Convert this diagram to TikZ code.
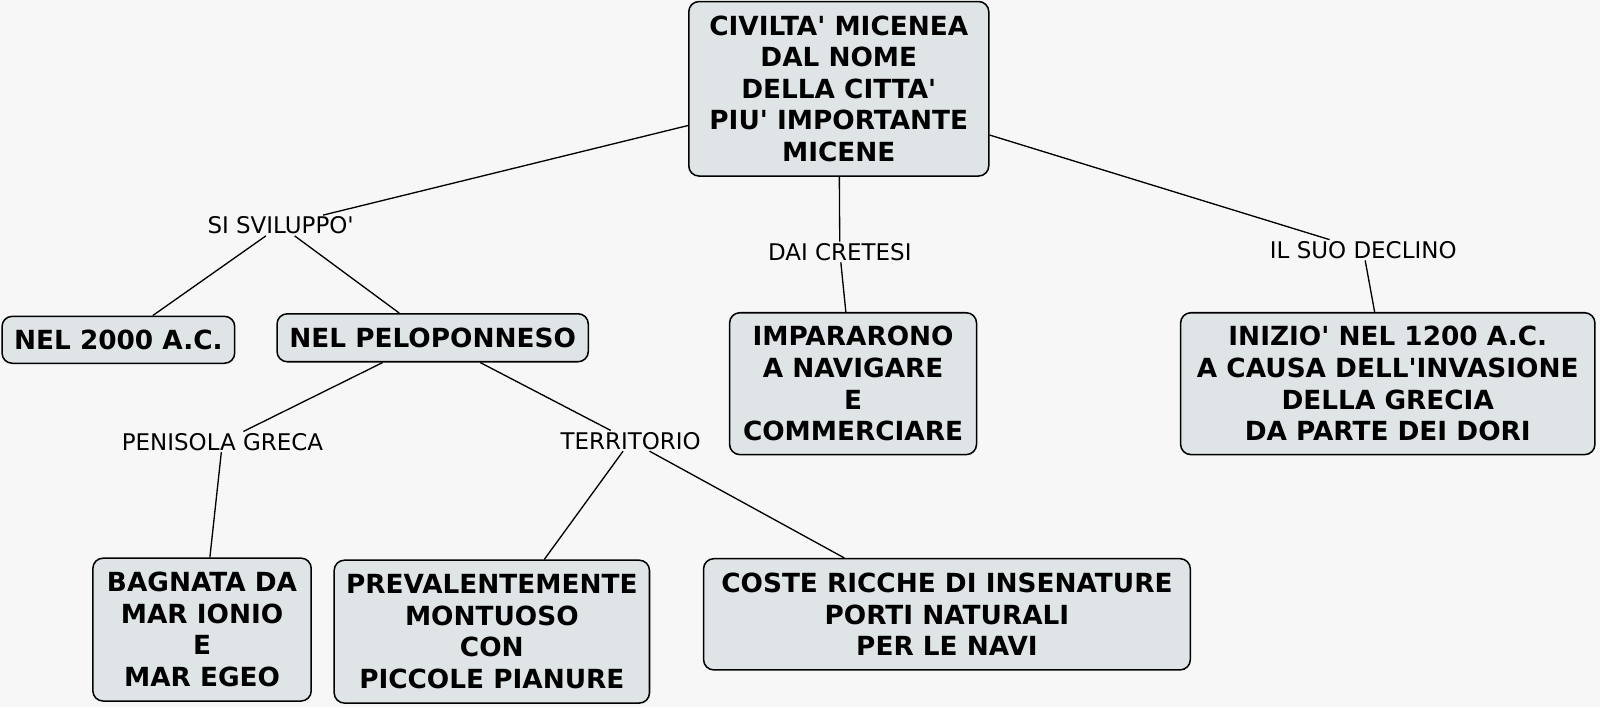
\documentclass[tikz,border=0pt]{standalone}
\usepackage{fontspec}
\setmainfont{DejaVu Sans}
\definecolor{sfondo}{RGB}{247,247,247}
\definecolor{riempi}{RGB}{223,229,231}
\newcommand{\apice}{\textquotesingle}

\tikzset{
  concept/.style={draw, line width=1.5pt, rounded corners=10pt, fill=riempi, align=center,
    inner sep=0pt, font=\fontsize{25.8}{31}\selectfont\bfseries},
  link/.style={align=center, inner sep=1pt, font=\fontsize{22.5}{26}\selectfont},
}

\begin{document}
\begin{tikzpicture}[x=1pt, y=-1pt, line width=1.3pt]
    \path[use as bounding box, fill=sfondo] (0,0) rectangle (1568,693);
    \node[concept, minimum width=294pt, minimum height=171pt] (1) at (822,87) {CIVILTA\apice{} MICENEA\\DAL NOME\\DELLA CITTA\apice\\PIU\apice{} IMPORTANTE\\MICENE};
    \node[link] (2) at (275,221) {SI SVILUPPO\apice};
    \node[concept, minimum width=228pt, minimum height=46pt] (3) at (116,333) {NEL 2000 A.C.};
    \node[concept, minimum width=305pt, minimum height=47pt] (4) at (424,331) {NEL PELOPONNESO};
    \node[link] (5) at (823,247) {DAI CRETESI};
    \node[concept, minimum width=242pt, minimum height=139pt] (6) at (836,376) {IMPARARONO\\A NAVIGARE\\E\\COMMERCIARE};
    \node[link] (7) at (1336,245) {IL SUO DECLINO};
    \node[concept, minimum width=406pt, minimum height=139pt] (8) at (1360,376) {INIZIO\apice{} NEL 1200 A.C.\\A CAUSA DELL\apice INVASIONE\\DELLA GRECIA\\DA PARTE DEI DORI};
    \node[link] (9) at (218,433) {PENISOLA GRECA};
    \node[link] (10) at (618,432) {TERRITORIO};
    \node[concept, minimum width=214pt, minimum height=140pt] (11) at (198,617) {BAGNATA DA\\MAR IONIO\\E\\MAR EGEO};
    \node[concept, minimum width=309pt, minimum height=140pt] (12) at (482,619) {PREVALENTEMENTE\\MONTUOSO\\CON\\PICCOLE PIANURE};
    \node[concept, minimum width=477pt, minimum height=109pt] (13) at (928,602) {COSTE RICCHE DI INSENATURE\\PORTI NATURALI\\PER LE NAVI};
    \path (1) edge (2);
    \path (2) edge (3);
    \path (2) edge (4);
    \path (1) edge (5);
    \path (5) edge (6);
    \path (1) edge (7);
    \path (7) edge (8);
    \path (4) edge (9);
    \path (9) edge (11);
    \path (4) edge (10);
    \path (10) edge (12);
    \path (10) edge (13);
\end{tikzpicture}
\end{document}
